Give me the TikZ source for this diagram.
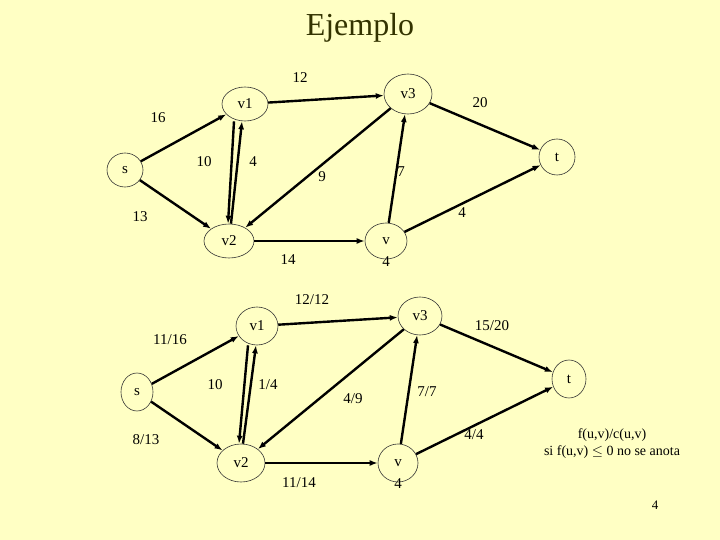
\documentclass[tikz,border=0pt]{standalone}
\usepackage{fontspec}
\setmainfont{Liberation Serif}
\usetikzlibrary{shapes.geometric,arrows.meta}
\definecolor{bg}{HTML}{FFFFC4}
\definecolor{ttl}{HTML}{333300}
\begin{document}
\begin{tikzpicture}[x=1pt,y=-1pt,
 nd/.style={ellipse,draw=black!80,line width=0.6pt,minimum width=#1,minimum height=34pt,inner sep=0pt,font=\fontsize{15}{15}\selectfont},
 nd/.default=44pt,
 ed/.style={-{Latex[length=8pt,width=6pt]},line width=2.4pt},
 lb/.style={font=\fontsize{15}{15}\selectfont}]
\fill[bg] (0,0) rectangle (720,540);
\useasboundingbox (0,0) rectangle (720,540);
\node[font=\fontsize{32}{32}\selectfont,text=ttl] (title) at (360,28) {Ejemplo};
% top graph
\node[nd=36pt] (s) at (125,170) {s};
\node[nd=46pt] (a1) at (245,104) {v1};
\node[nd=48pt,minimum height=40pt] (a3) at (408,94) {v3};
\node[nd=36pt,minimum height=36pt] (t) at (557,157) {t};
\node[nd=50pt] (a2) at (229,241) {v2};
\node[nd=42pt,minimum height=36pt] (a4) at (386,241) {v};
\node[lb] (a4s) at (386,262) {4};
\draw[ed] (s) -- (a1);
\draw[ed] (s) -- (a2);
\draw[ed] (a1) -- (a3);
\draw[ed] (a3) -- (t);
\draw[ed] (a4) -- (t);
\draw[ed] (a2) -- (a4);
\draw[ed] ([xshift=-11pt]a1.south) -- ([xshift=-1pt]a2.north);
\draw[ed] ([xshift=2pt]a2.north) -- ([xshift=-3pt]a1.south);
\draw[ed] (a3) -- (a2);
\draw[ed] (a4) -- (a3);
\node[lb] (l1) at (300,78) {12};
\node[lb] (l2) at (480,103) {20};
\node[lb] (l3) at (158,118) {16};
\node[lb] (l4) at (204,162) {10};
\node[lb] (l5) at (253,162) {4};
\node[lb] (l6) at (322,177) {9};
\node[lb] (l7) at (401,172) {7};
\node[lb] (l8) at (462,213) {4};
\node[lb] (l9) at (140,217) {13};
\node[lb] (l10) at (288,260) {14};
% bottom graph
\begin{scope}[shift={(12,222)}]
\node[nd=32pt,minimum height=38pt] (bs) at (125,170) {s};
\node[nd=42pt,minimum height=38pt] (b1) at (245,104) {v1};
\node[nd=44pt,minimum height=38pt] (b3) at (408,94) {v3};
\node[nd=34pt,minimum height=38pt] (bt) at (557,157) {t};
\node[nd=48pt,minimum height=38pt] (b2) at (229,241) {v2};
\node[nd=40pt,minimum height=38pt] (b4) at (386,241) {v};
\node[lb] (b4s) at (386,262) {4};
\draw[ed] (bs) -- (b1);
\draw[ed] (bs) -- (b2);
\draw[ed] (b1) -- (b3);
\draw[ed] (b3) -- (bt);
\draw[ed] (b4) -- (bt);
\draw[ed] (b2) -- (b4);
\draw[ed] ([xshift=-9pt]b1.south) -- ([xshift=-2pt]b2.north);
\draw[ed] ([xshift=2pt]b2.north) -- ([xshift=-1pt]b1.south);
\draw[ed] (b3) -- (b2);
\draw[ed] (b4) -- (b3);
\end{scope}
\node[lb] (m1) at (312,300) {12/12};
\node[lb] (m2) at (492,326) {15/20};
\node[lb] (m3) at (170,340) {11/16};
\node[lb] (m4) at (215,385) {10};
\node[lb] (m5) at (268,385) {1/4};
\node[lb] (m6) at (353,399) {4/9};
\node[lb] (m7) at (427,392) {7/7};
\node[lb] (m8) at (474,435) {4/4};
\node[lb] (m9) at (146,440) {8/13};
\node[lb] (m10) at (299,483) {11/14};
\node[font=\fontsize{14}{17}\selectfont,align=center] (leg) at (612,444) {f(u,v)/c(u,v)\\si f(u,v) $\leq$ 0 no se anota};
\node[font=\fontsize{13}{13}\selectfont] (pg) at (655,505) {4};
\end{tikzpicture}
\end{document}
